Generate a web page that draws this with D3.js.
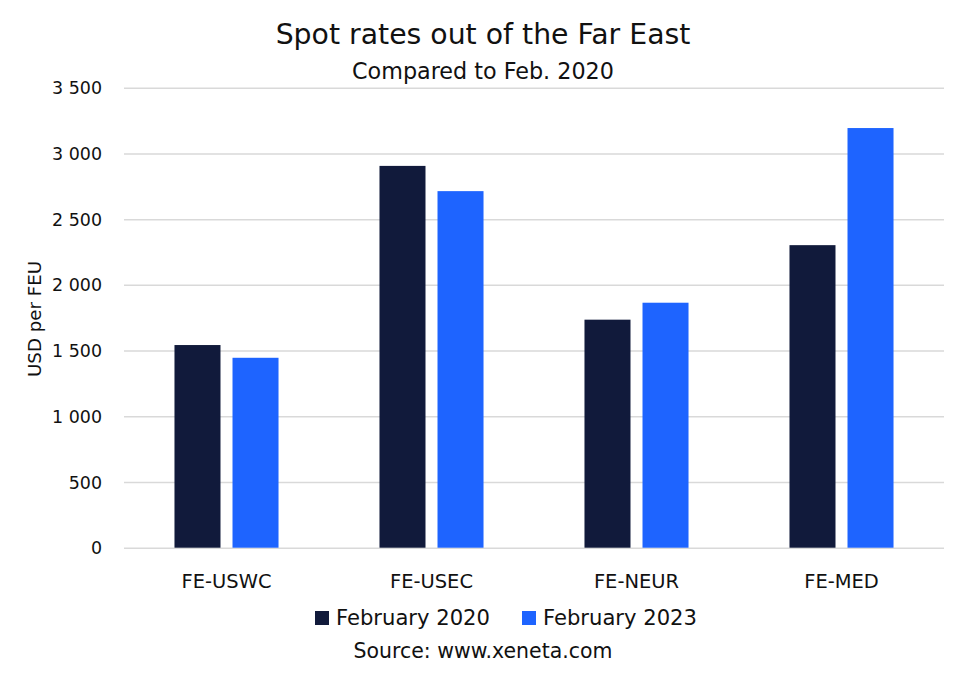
<!DOCTYPE html>
<html><head><meta charset="utf-8">
<script src="https://cdn.jsdelivr.net/npm/d3@7"></script>
<style>body{margin:0;background:#fff}svg{display:block}text{font-family:"DejaVu Sans",sans-serif;fill:#111}</style>
</head><body>
<svg id="c" width="970" height="679"></svg>
<script>
const categories = ["FE-USWC", "FE-USEC", "FE-NEUR", "FE-MED"];
const seriesNames = ["February 2020", "February 2023"];
const feb2020 = [1542, 2905, 1735, 2302];
const feb2023 = [1445, 2713, 1864, 3193];
const yTicks = [0, 500, 1000, 1500, 2000, 2500, 3000, 3500];
const colors = ["#111a3b", "#1e64ff"];

const svg = d3.select("#c");
const pL = 124, pR = 944, pT = 87.7, pB = 547.7;
const x = d3.scaleBand().domain(categories).range([pL, pR]).paddingInner(0).paddingOuter(0);
const xs = d3.scaleBand().domain(seriesNames).range([0, x.bandwidth()]).paddingInner(0.207).paddingOuter(0.87);
const y = d3.scaleLinear().domain([0, 3500]).range([pB, pT]);
const fmt = v => d3.format(",")(v).replace(/,/g, " ");

// font size that makes a sample string reach a given width
function fitSize(sample, width, base) {
  const t = svg.append("text").style("font-size", base + "px").text(sample);
  const w = t.node().getComputedTextLength();
  t.remove();
  return base * width / w;
}
const fsTick = fitSize("3 500", 50, 16);
const fsCat = fitSize("FE-USWC", 90, 16);
const fsTitle = fitSize("Spot rates out of the Far East", 415, 26);
const fsSub = fitSize("Compared to Feb. 2020", 262, 19);
const fsLeg = fitSize("February 2020", 154, 20);
const fsSrc = fitSize("Source: www.xeneta.com", 259, 18);
const fsYl = fitSize("USD per FEU", 116, 18);

// gridlines + y labels
const ya = d3.axisLeft(y).tickValues(yTicks).tickSize(-(pR - pL)).tickFormat(fmt).tickPadding(22);
const yg = svg.append("g").attr("transform", `translate(${pL},0)`).call(ya);
yg.select(".domain").remove();
yg.selectAll(".tick line").attr("stroke", "#d9d9d9").attr("stroke-width", 1.5);
yg.selectAll(".tick text").style("font-size", fsTick + "px").attr("fill", "#111").attr("dy", "0.35em");

// bars
const data = categories.map((c, i) => ({c, vals: [feb2020[i], feb2023[i]]}));
const g = svg.append("g");
data.forEach(d => {
  d.vals.forEach((v, j) => {
    g.append("rect")
      .attr("x", x(d.c) + xs(seriesNames[j]))
      .attr("width", xs.bandwidth())
      .attr("y", y(v))
      .attr("height", y(0) - y(v))
      .attr("fill", colors[j]);
  });
});

// x axis labels
const xa = d3.axisBottom(x).tickSize(0).tickPadding(0);
const xg = svg.append("g").attr("transform", `translate(0,${pB})`).call(xa);
xg.select(".domain").remove();
xg.selectAll(".tick text").style("font-size", fsCat + "px").attr("fill", "#111").attr("dy", "0").attr("y", 40);

// titles
svg.append("text").attr("x", 483).attr("y", 44).attr("text-anchor", "middle").style("font-size", fsTitle + "px").text("Spot rates out of the Far East");
svg.append("text").attr("x", 483).attr("y", 79).attr("text-anchor", "middle").style("font-size", fsSub + "px").text("Compared to Feb. 2020");
svg.append("text").attr("transform", "translate(41,319) rotate(-90)").attr("text-anchor", "middle").style("font-size", fsYl + "px").text("USD per FEU");

// legend
const legX = [315, 522];
seriesNames.forEach((s, j) => {
  svg.append("rect").attr("x", legX[j]).attr("y", 611).attr("width", 14).attr("height", 14).attr("fill", colors[j]);
  svg.append("text").attr("x", legX[j] + 21).attr("y", 625).style("font-size", fsLeg + "px").text(s);
});
svg.append("text").attr("x", 483).attr("y", 658).attr("text-anchor", "middle").style("font-size", fsSrc + "px").text("Source: www.xeneta.com");
</script>
</body></html>
